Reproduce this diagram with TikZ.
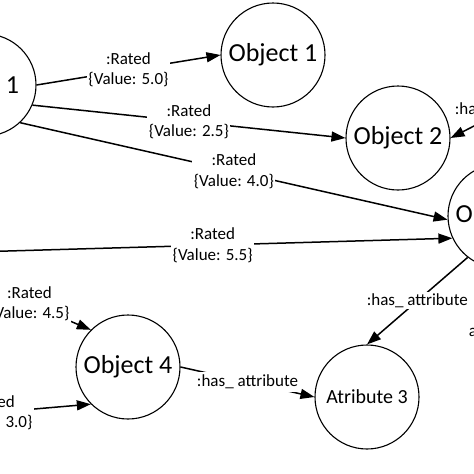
\documentclass[tikz,border=0pt]{standalone}
\usepackage{fontspec}
\setmainfont{Carlito}
\usetikzlibrary{arrows.meta}
\begin{document}
\begin{tikzpicture}[x=1pt,y=-1pt,
  ent/.style={draw,circle,line width=1.1pt,minimum size=104pt,inner sep=0pt,fill=white,font=\fontsize{26}{30}\selectfont},
  attr/.style={ent,font=\fontsize{20}{24}\selectfont},
  rel/.style={line width=1.5pt,-{Triangle[length=14pt,width=10pt]}},
  lab/.style={fill=white,inner sep=1.5pt,align=center,font=\fontsize{17}{20.5}\selectfont}]
\useasboundingbox (0,0) rectangle (474,474);
\clip (0,0) rectangle (474,474);
\node[ent,minimum size=102pt] (u1) at (-15,85) {User 1};
\node[ent] (o1) at (273,55) {Object 1};
\node[ent] (o2) at (398,138) {Object 2};
\node[ent] (o3) at (500,216) {Object 3};
\node[ent] (o4) at (128,367) {Object 4};
\node[attr] (a3) at (367,397) {Atribute 3};
\coordinate (u2) at (-27,252);
\coordinate (u3) at (-32,278);
\coordinate (u4) at (-106,421);
\coordinate (a2) at (560,82);
\coordinate (a4) at (498,372);
\draw[rel] (u1.0) -- node[lab]{:Rated\\\{Value: 5.0\}} (o1.west);
\draw[rel] (u1.-23) -- node[lab]{:Rated\\\{Value: 2.5\}} (o2.west);
\draw[rel] (u1.-47) -- node[lab]{:Rated\\\{Value: 4.0\}} (o3.184);
\draw[rel] (u2) -- node[lab]{:Rated\\\{Value: 5.5\}} (o3.205);
\draw[rel] (u3) -- node[lab]{:Rated\\\{Value: 4.5\}} (o4.135);
\draw[rel] (u4) -- node[lab]{:Rated\\\{Value: 3.0\}} (o4.225);
\draw[rel] (o4.east) -- node[lab,inner sep=3pt]{:has\_ attribute} (a3.west);
\draw[rel] (o3.232) -- node[lab]{:has\_ attribute} (a3.north);
\draw[rel] (a2) -- node[lab]{:has\_ attribute} (o2.east);
\draw[rel] (o3.south) -- node[lab]{:has\_\\attribute} (a4);
\end{tikzpicture}
\end{document}
